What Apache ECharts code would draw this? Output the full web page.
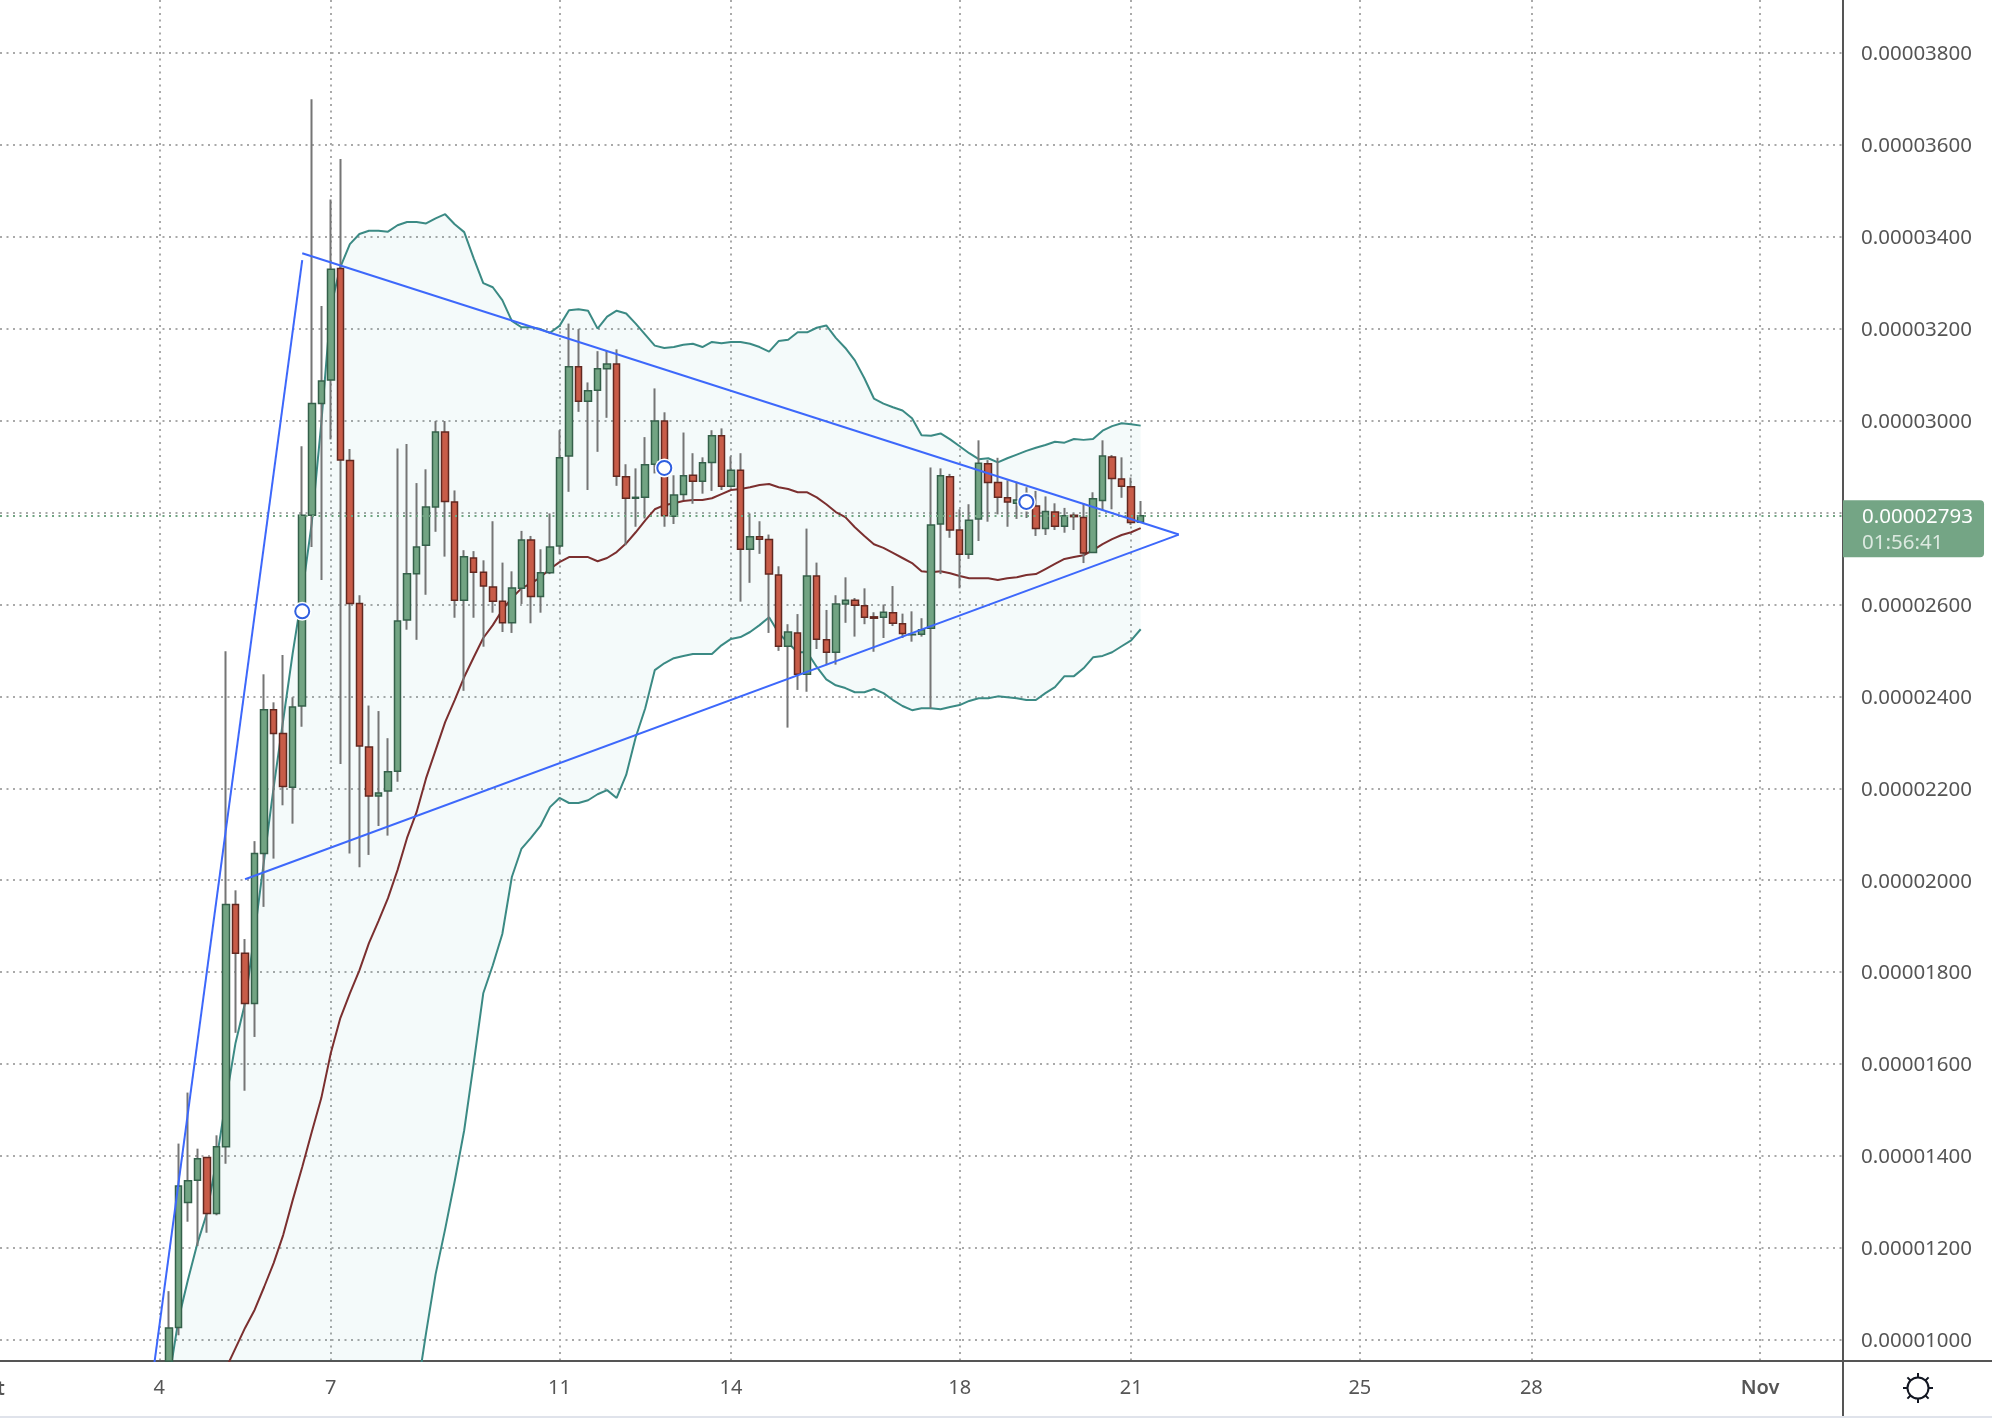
<!DOCTYPE html>
<html>
<head>
<meta charset="utf-8">
<title>Chart</title>
<script src="https://cdn.jsdelivr.net/npm/echarts@6/dist/echarts.min.js"></script>
<style>
html, body { margin: 0; padding: 0; background: #fff; }
#chart { width: 1992px; height: 1428px; }
</style>
</head>
<body>
<div id="chart"></div>
<script>
// prices are in units of 0.00000001, one candle every 4 hours
const opens = [954,1027,1299,1347,1397,1275,1420,1947,1841,1732,2058,2371,2319,2202,2379,2794,3037,3088,3331,2913,2602,2290,2183,2194,2237,2566,2667,2729,2812,2975,2823,2609,2701,2670,2638,2607,2560,2635,2740,2617,2669,2727,2923,3117,3042,3066,3113,3123,2878,2831,2833,2905,2999,2792,2839,2881,2868,2909,2967,2857,2892,2720,2747,2741,2664,2509,2538,2448,2662,2523,2496,2601,2609,2597,2573,2572,2582,2558,2534,2535,2548,2775,2878,2762,2709,2786,2906,2865,2832,2820,2826,2814,2765,2801,2770,2794,2789,2713,2826,2921,2873,2856,2779];
const closes = [1026,1335,1346,1394,1275,1420,1947,1841,1732,2058,2371,2319,2204,2377,2794,3037,3086,3329,2914,2602,2292,2183,2190,2236,2564,2667,2725,2812,2975,2824,2609,2704,2670,2640,2607,2560,2636,2740,2617,2669,2725,2919,3117,3042,3065,3113,3123,2879,2831,2833,2904,2999,2793,2838,2880,2868,2908,2967,2857,2892,2720,2747,2742,2666,2509,2540,2448,2662,2524,2496,2601,2609,2598,2572,2570,2583,2559,2537,2535,2545,2773,2880,2762,2709,2783,2907,2865,2833,2823,2827,2820,2765,2802,2770,2793,2791,2712,2830,2923,2874,2857,2778,2793];
const lows = [954,1010,1257,1204,1233,1271,1383,1668,1542,1659,1942,2047,2163,2123,2334,2725,2653,2959,2253,2058,2028,2055,2118,2097,2214,2545,2523,2621,2758,2704,2571,2412,2571,2508,2582,2540,2538,2601,2559,2582,2666,2709,2845,3019,2849,2932,3006,2858,2729,2769,2787,2885,2769,2775,2827,2819,2841,2847,2849,2855,2606,2647,2710,2538,2499,2332,2414,2410,2503,2468,2469,2560,2530,2557,2497,2527,2553,2527,2519,2530,2374,2666,2745,2635,2699,2738,2780,2796,2769,2786,2788,2749,2751,2762,2756,2762,2690,2713,2805,2807,2832,2773,2779];
const highs = [1106,1427,1538,1416,1397,1445,2498,1978,1872,2085,2448,2387,2490,2398,2944,3699,3249,3481,3569,2938,2620,2380,2368,2309,2939,2949,2864,2894,2999,2999,2848,2718,2716,2696,2781,2691,2672,2760,2749,2720,2798,2979,3211,3199,3083,3151,3152,3155,2905,2896,2964,3070,3018,2881,2974,2929,2920,2979,2983,2922,2929,2798,2781,2752,2683,2557,2579,2765,2691,2588,2620,2659,2614,2635,2583,2600,2640,2580,2585,2570,2898,2896,2884,2807,2818,2957,2914,2919,2870,2867,2855,2847,2835,2820,2810,2798,2820,2844,2957,2925,2920,2876,2825];

const bandUpper = [912,1043,1130,1210,1276,1391,1522,1646,1733,1885,2044,2202,2348,2494,2625,2777,2994,3247,3334,3384,3406,3413,3413,3411,3425,3432,3432,3429,3440,3449,3427,3410,3353,3299,3290,3262,3217,3203,3203,3199,3191,3206,3240,3242,3239,3200,3226,3239,3233,3211,3187,3163,3158,3160,3165,3167,3160,3171,3168,3171,3171,3167,3160,3150,3173,3176,3192,3192,3202,3207,3180,3158,3131,3092,3048,3037,3029,3022,3005,2968,2967,2972,2959,2944,2929,2916,2918,2909,2918,2926,2934,2941,2947,2954,2952,2960,2958,2960,2978,2988,2994,2992,2989];
const bandBasis = [684,727,771,814,858,901,938,982,1026,1065,1115,1167,1228,1304,1376,1452,1526,1624,1700,1754,1804,1863,1911,1961,2022,2092,2148,2222,2283,2344,2392,2442,2485,2527,2555,2588,2614,2635,2646,2659,2677,2692,2703,2703,2703,2694,2701,2714,2733,2757,2783,2807,2816,2820,2825,2827,2827,2831,2840,2849,2851,2855,2860,2862,2855,2851,2844,2844,2833,2818,2801,2790,2768,2749,2731,2723,2712,2701,2690,2672,2670,2672,2668,2662,2657,2657,2657,2653,2657,2659,2664,2666,2677,2688,2699,2703,2707,2718,2731,2742,2751,2757,2766];
const bandLower = [456,411,412,418,440,411,354,318,319,245,186,132,108,114,127,127,58,1,66,124,202,313,409,511,619,752,880,1015,1143,1241,1345,1456,1602,1754,1815,1883,2007,2068,2092,2118,2159,2179,2168,2168,2174,2187,2196,2179,2229,2311,2374,2457,2472,2483,2488,2492,2492,2492,2511,2525,2529,2540,2555,2572,2538,2516,2496,2496,2464,2437,2424,2418,2409,2409,2416,2407,2392,2379,2370,2374,2374,2372,2377,2381,2390,2396,2396,2400,2398,2396,2392,2392,2407,2420,2444,2444,2461,2485,2488,2496,2509,2522,2546];

// hand drawn triangle, [candle index, price]
const legRise = [[-2, 875], [14, 3349]];
const legUpper = [[14, 3364], [106, 2752]];
const legLower = [[8, 2002], [106, 2752]];
const anchors = [[14, 2585], [52, 2897], [90, 2823]];

const priceTicks = [1000,1200,1400,1600,1800,2000,2200,2400,2600,2800,3000,3200,3400,3600,3800];
const priceLabels = [1000,1200,1400,1600,1800,2000,2200,2400,2600,3000,3200,3400,3600,3800];
const dateTicks = [-1,17,41,59,83,101,125,143,167];
const dateLabels = ['4','7','11','14','18','21','25','28','Nov'];
const lastPrice = 2793;
const countdown = '01:56:41';

const LABEL_FONT = '"Noto Sans", sans-serif';
const fmtPrice = v => (v / 100000000).toFixed(8);
const indexed = arr => arr.map((v, i) => [i, v]);
const wickData = opens.map((o, i) => [i, o, closes[i], lows[i], highs[i]]);
const bodyData = opens.map((o, i) => [i, o, closes[i], Math.min(o, closes[i]), Math.max(o, closes[i])]);

const chart = echarts.init(document.getElementById('chart'));

const bandLine = { color: '#3b8a84', width: 2 };
const trendLine = { color: '#3d68fb', width: 2 };

function drawLine (name, data) {
  return {
    name,
    type: 'line',
    data,
    symbol: 'none',
    lineStyle: trendLine,
    z: 5,
    silent: true
  };
}

// one polygon between the two band lines, drawn on the first item only
function renderBandFill (params, api) {
  if (params.dataIndex !== 0) return null;
  const top = bandUpper.map((v, i) => api.coord([i, v]));
  const bottom = bandLower.map((v, i) => api.coord([i, v])).reverse();
  return {
    type: 'polygon',
    shape: { points: top.concat(bottom) },
    style: { fill: 'rgba(0, 128, 128, 0.045)' }
  };
}

// the little sun in the corner
const sunRays = [0, 45, 90, 135, 180, 225, 270, 315].map(a => {
  const r = a * Math.PI / 180;
  return {
    type: 'line',
    shape: {
      x1: 1918 + Math.cos(r) * 10.5,
      y1: 1388 + Math.sin(r) * 10.5,
      x2: 1918 + Math.cos(r) * 15,
      y2: 1388 + Math.sin(r) * 15
    },
    style: { stroke: '#131722', lineWidth: 2 }
  };
});

chart.setOption({
  animation: false,
  backgroundColor: '#fff',
  grid: { left: 0, right: 149, top: 0, bottom: 67 },
  xAxis: {
    type: 'value',
    min: -17.72,
    max: 175.71,
    axisLine: { show: true, onZero: false, lineStyle: { color: '#555', width: 2 } },
    axisTick: { show: false, customValues: dateTicks },
    splitLine: { show: true, lineStyle: { color: '#a9a9a9', width: 2, type: [2, 4.5] } },
    axisLabel: {
      customValues: dateTicks,
      margin: 17,
      color: '#555',
      fontFamily: LABEL_FONT,
      fontSize: 20,
      formatter: v => {
        const text = dateLabels[dateTicks.indexOf(v)];
        return text === 'Nov' ? '{m|' + text + '}' : text;
      },
      rich: { m: { fontWeight: 600, color: '#555', fontFamily: LABEL_FONT, fontSize: 20 } }
    }
  },
  yAxis: {
    type: 'value',
    position: 'right',
    min: 954,
    max: 3915,
    axisLine: { show: true, onZero: false, lineStyle: { color: '#555', width: 2 } },
    axisTick: { show: false, customValues: priceTicks },
    splitLine: { show: true, lineStyle: { color: '#a9a9a9', width: 2, type: [2, 4.5] } },
    axisLabel: {
      customValues: priceLabels,
      margin: 18,
      color: '#555',
      fontFamily: LABEL_FONT,
      fontSize: 20.5,
      formatter: v => '{p|' + fmtPrice(v) + '}',
      rich: {
        p: { color: '#555', fontFamily: LABEL_FONT, fontSize: 20.5, padding: [3, 0, 0, 0] }
      }
    }
  },
  series: [
    {
      name: 'BB fill',
      type: 'custom',
      data: indexed(bandUpper),
      encode: { x: 0, y: 1 },
      renderItem: renderBandFill,
      clip: true,
      silent: true,
      z: 1
    },
    {
      name: 'BB lower',
      type: 'line',
      data: indexed(bandLower),
      symbol: 'none',
      lineStyle: bandLine,
      silent: true,
      z: 2
    },
    {
      name: 'BB upper',
      type: 'line',
      data: indexed(bandUpper),
      symbol: 'none',
      lineStyle: bandLine,
      silent: true,
      z: 2
    },
    {
      name: 'BB basis',
      type: 'line',
      data: indexed(bandBasis),
      symbol: 'none',
      lineStyle: { color: '#7b2f2f', width: 2 },
      silent: true,
      z: 2
    },
    {
      name: 'wicks',
      type: 'candlestick',
      data: wickData,
      barWidth: 0,
      itemStyle: {
        color: '#757575',
        color0: '#757575',
        borderColor: '#757575',
        borderColor0: '#757575',
        borderWidth: 2
      },
      z: 3,
      silent: true
    },
    {
      name: 'bodies',
      type: 'candlestick',
      data: bodyData,
      barWidth: 7,
      itemStyle: {
        color: '#72a483',
        color0: '#c85c48',
        borderColor: '#34604a',
        borderColor0: '#622820',
        borderWidth: 1.5
      },
      markLine: {
        silent: true,
        symbol: 'none',
        animation: false,
        lineStyle: { color: '#70a582', width: 2, type: [2, 4.5] },
        data: [{ yAxis: lastPrice }],
        label: {
          position: 'end',
          distance: 0,
          offset: [0, 13],
          align: 'left',
          backgroundColor: '#74a585',
          borderRadius: [0, 4, 4, 0],
          padding: [4, 11, 1, 19],
          formatter: '{p|' + fmtPrice(lastPrice) + '}\n{t|' + countdown + '}',
          rich: {
            p: { color: '#fff', fontFamily: LABEL_FONT, fontSize: 20.5, lineHeight: 26 },
            t: { color: '#dce9e0', fontFamily: LABEL_FONT, fontSize: 20.5, lineHeight: 26 }
          }
        }
      },
      z: 3,
      silent: true
    },
    drawLine('rise', legRise),
    drawLine('upper side', legUpper),
    drawLine('lower side', legLower),
    {
      name: 'anchor halo',
      type: 'scatter',
      data: anchors,
      symbolSize: 19,
      itemStyle: { color: '#fff', opacity: 1 },
      z: 6,
      silent: true
    },
    {
      name: 'anchors',
      type: 'scatter',
      data: anchors,
      symbolSize: 14,
      itemStyle: { color: '#fff', borderColor: '#2f5fe0', borderWidth: 2, opacity: 1 },
      z: 7,
      silent: true
    }
  ],
  graphic: [
    { type: 'text', x: -12, y: 1379, style: { text: 'Oct', fill: '#555', font: '600 20px ' + LABEL_FONT, textAlign: 'center' } },
    { type: 'line', shape: { x1: 1843, y1: 1361, x2: 1992, y2: 1361 }, style: { stroke: '#555', lineWidth: 2 } },
    { type: 'line', shape: { x1: 1843, y1: 1361, x2: 1843, y2: 1416 }, style: { stroke: '#555', lineWidth: 2 } },
    { type: 'line', shape: { x1: 0, y1: 1417, x2: 1992, y2: 1417 }, style: { stroke: '#e0e3eb', lineWidth: 2 } },
    { type: 'circle', shape: { cx: 1918, cy: 1388, r: 10.5 }, style: { fill: 'none', stroke: '#131722', lineWidth: 2 } }
  ].concat(sunRays)
});
</script>
</body>
</html>
